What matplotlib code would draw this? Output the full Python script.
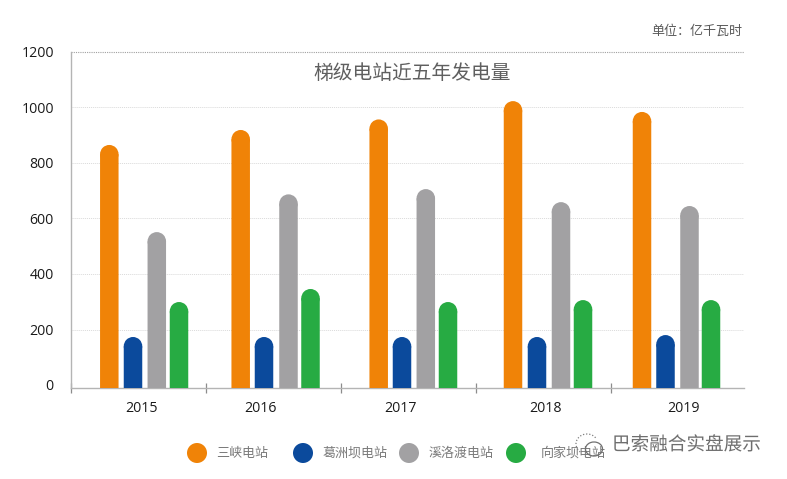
"""Cascade hydropower stations: annual generation, 2015-2019."""

import matplotlib
matplotlib.use("Agg")
import matplotlib.pyplot as plt
from matplotlib.patches import Arc, Ellipse, Rectangle
import matplotlib.patheffects as pe

plt.rcParams['font.family'] = ['Noto Sans CJK SC', 'DejaVu Sans']

years = ['2015', '2016', '2017', '2018', '2019']
stations = ['三峡电站', '葛洲坝电站', '溪洛渡电站', '向家坝电站']
sanxia = [865, 919, 957, 1023, 984]
gezhouba = [173, 173, 173, 173, 180]
xiluodu = [551, 687, 706, 659, 645]
xiangjiaba = [299, 346, 299, 306, 306]
y_ticks = [0, 200, 400, 600, 800, 1000, 1200]

# bar centres, in pixels from the left spine
x_sanxia = [38.8, 170.2, 308.2, 442.5, 571.5]
x_gezhouba = [62.5, 193.5, 331.5, 466.5, 595.0]
x_xiluodu = [86.3, 218.0, 355.3, 490.5, 619.0]
x_xiangjiaba = [108.5, 240.0, 377.5, 512.5, 640.5]
x_year_labels = [71.5, 189.5, 330.0, 475.5, 612.5]
x_boundaries = [0, 135, 270, 405, 540]

colors = ['#F08307', '#0B4A9C', '#A2A1A3', '#27AB43']

W, H = 787, 479
LEFT, RIGHT, TOP, BOTTOM = 70.5, 743.5, 52.0, 388.0
BAR_W = 18.5
PX_PER_UNIT = 0.2775
Y_MIN = -(BOTTOM - 385.0) / PX_PER_UNIT
DIGIT_FONT = ['Open Sans', 'DejaVu Sans']


def rounded_bars(ax, xs, values, color):
    """Bars with a semicircular top; the radius is half the bar width in pixels."""
    r = (BAR_W / 2) / PX_PER_UNIT
    for x, v in zip(xs, values):
        body = Rectangle((x - BAR_W / 2, Y_MIN), BAR_W, v - r - Y_MIN,
                         facecolor=color, edgecolor='none', zorder=3)
        body.set_snap(False)
        ax.add_patch(body)
        ax.add_patch(Ellipse((x, v - r), BAR_W, 2 * r,
                             facecolor=color, edgecolor='none', zorder=3))


fig = plt.figure(figsize=(W / 100, H / 100), dpi=100)
ax = fig.add_axes([LEFT / W, 1 - BOTTOM / H, (RIGHT - LEFT) / W, (BOTTOM - TOP) / H])
ax.set_xlim(0, RIGHT - LEFT)
ax.set_ylim(Y_MIN, 1200)

rounded_bars(ax, x_sanxia, sanxia, colors[0])
rounded_bars(ax, x_gezhouba, gezhouba, colors[1])
rounded_bars(ax, x_xiluodu, xiluodu, colors[2])
rounded_bars(ax, x_xiangjiaba, xiangjiaba, colors[3])

for s in ['top', 'right']:
    ax.spines[s].set_visible(False)
for s in ['left', 'bottom']:
    ax.spines[s].set_color('#B4B4B4')
    ax.spines[s].set_linewidth(1.0)

ax.set_yticks(y_ticks)
ax.set_yticklabels([str(t) for t in y_ticks], fontsize=10.2, color='#1A1A1A', family=DIGIT_FONT)
ax.tick_params(axis='y', length=0, pad=12)

ax.set_xticks(x_boundaries)
ax.set_xticklabels([])
ax.tick_params(axis='x', which='major', direction='inout', length=7, width=0.9, color='#8C8C8C')
ax.set_xticks(x_year_labels, minor=True)
ax.set_xticklabels(years, minor=True, fontsize=10.2, color='#1A1A1A', family=DIGIT_FONT)
ax.tick_params(axis='x', which='minor', length=0, pad=9)

# grid lines, the top one darker than the rest
for t in y_ticks[1:]:
    if t == 1200:
        ax.axhline(t, color='#A0A0A0', lw=0.8, ls=(0, (1, 1)), zorder=1, clip_on=False)
    else:
        ax.axhline(t, color='#DADADA', lw=0.7, ls=(0, (1, 1)), zorder=1)

# overlay in pixel coordinates for title, legend and watermark
ov = fig.add_axes([0, 0, 1, 1], facecolor='none')
ov.set_xlim(0, W)
ov.set_ylim(H, 0)
ov.axis('off')

ov.text(412, 73, '梯级电站近五年发电量', fontsize=14.2, color='#5F5F5F', ha='center', va='center')
ov.text(742, 31.5, '单位：亿千瓦时', fontsize=9.4, color='#595959', ha='right', va='center')

legend_dot_x = [197, 303, 409, 516]
legend_text_x = [216, 323, 429, 541]
for name, c, dx, tx in zip(stations, colors, legend_dot_x, legend_text_x):
    ov.add_patch(Ellipse((dx, 453), 20, 20, facecolor=c, edgecolor='none'))
    ov.text(tx, 453, name, fontsize=9.4, color='#7A7A7A', ha='left', va='center')

# account mark: two open speech-bubble arcs and the name beside them
ov.add_patch(Arc((587, 444), 22, 20, theta1=130, theta2=330, color='#808080', lw=0.9, ls=(0, (1, 1.5)), zorder=5))
ov.add_patch(Arc((594, 449), 17, 14, theta1=0, theta2=360, color='#707070', lw=0.9, zorder=5))
ov.text(612, 445, '巴索融合实盘展示', fontsize=13.4, color='#6E6E6E', ha='left', va='center',
        path_effects=[pe.withStroke(linewidth=1.2, foreground='white')])

fig.savefig('out.png', dpi=100, facecolor='white')
